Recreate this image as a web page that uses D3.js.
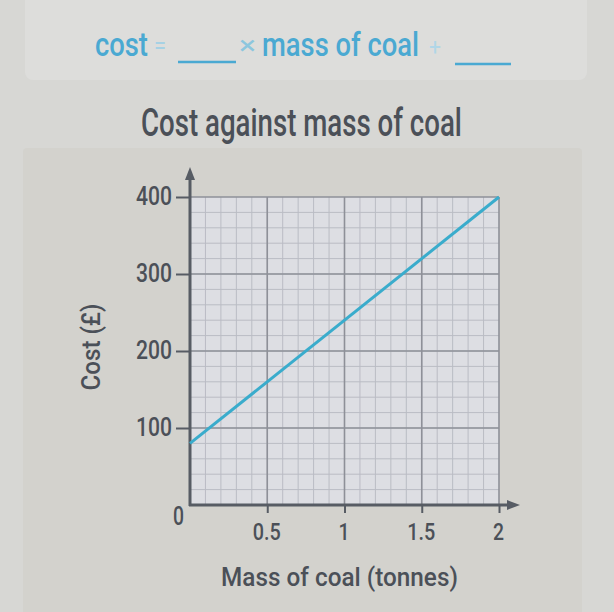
<!DOCTYPE html>
<html><head><meta charset="utf-8">
<script src="https://cdn.jsdelivr.net/npm/d3@7"></script>
<style>
html,body{margin:0;padding:0;background:#d6d6d3;}
svg{display:block;}
</style></head>
<body>
<svg id="chart" width="614" height="612"></svg>
<script>
// ---- data ----
const massValues = [0, 2];          // tonnes
const costValues = [80, 400];       // £
const xTickValues = [0.5, 1, 1.5, 2];
const xTickLabels = ["0.5", "1", "1.5", "2"];
const yTickValues = [100, 200, 300, 400];
const yTickLabels = ["100", "200", "300", "400"];
const titleText = "Cost against mass of coal";
const xLabelText = "Mass of coal (tonnes)";
const yLabelText = "Cost (£)";

const FONT = "Roboto,'Open Sans',sans-serif";
const TXT = "#4b5058";
const svg = d3.select("#chart");

// text condensed to a given width by a horizontal scale transform
function txt(parent, str, x, y, size, width, opts = {}) {
  const t = parent.append("text").attr("x", 0).attr("y", 0)
    .attr("font-family", FONT).attr("font-size", size)
    .attr("font-weight", opts.weight || 500)
    .attr("fill", opts.fill || TXT)
    .attr("text-anchor", opts.anchor || "start")
    .text(str);
  const w = t.node().getComputedTextLength();
  const sx = width && w ? width / w : 1;
  const rot = opts.rotate ? ` rotate(${opts.rotate})` : "";
  t.attr("transform", `translate(${x},${y})${rot} scale(${sx},1)`);
  return t;
}

// background panels
svg.append("rect").attr("x",0).attr("y",0).attr("width",614).attr("height",612).attr("fill","#d7d7d4");
svg.append("rect").attr("x",25).attr("y",-10).attr("width",562).attr("height",90).attr("rx",8).attr("fill","#dddddb");
svg.append("rect").attr("x",23).attr("y",148).attr("width",559).attr("height",475).attr("rx",4).attr("fill","#d3d2cd");

// header equation
const BLUE = "#4aa9d2";
txt(svg, "cost", 95, 56, 33, 53, {fill: BLUE});
txt(svg, "=", 154, 54, 24, 12, {fill: "#a6d1e4", weight: 400});
svg.append("line").attr("x1",178).attr("x2",236).attr("y1",62).attr("y2",62).attr("stroke",BLUE).attr("stroke-width",2.5);
txt(svg, "×", 239, 54, 26, 17, {fill: "#8cc6de", weight: 400});
txt(svg, "mass of coal", 262, 56, 33, 157, {fill: BLUE});
txt(svg, "+", 429, 55, 24, 12, {fill: "#b0d6e7", weight: 400});
svg.append("line").attr("x1",455).attr("x2",511).attr("y1",64).attr("y2",64).attr("stroke",BLUE).attr("stroke-width",2.5);

// title
txt(svg, titleText, 141, 136, 38, 321);

// scales
const x = d3.scaleLinear().domain([0,2]).range([190,499]);
const y = d3.scaleLinear().domain([0,400]).range([505,197]);

// plot background
svg.append("rect").attr("x",x(0)).attr("y",y(400)).attr("width",x(2)-x(0)).attr("height",y(0)-y(400)).attr("fill","#dddee3");

// minor grid
const minorX = d3.range(1,20).map(i=>i*0.1);
const minorY = d3.range(1,20).map(i=>i*20);
const g = svg.append("g");
g.selectAll(".mx").data(minorX).join("line")
  .attr("x1",d=>x(d)).attr("x2",d=>x(d)).attr("y1",y(0)).attr("y2",y(400))
  .attr("stroke","#babcc4").attr("stroke-width",1);
g.selectAll(".my").data(minorY).join("line")
  .attr("x1",x(0)).attr("x2",x(2)).attr("y1",d=>y(d)).attr("y2",d=>y(d))
  .attr("stroke","#babcc4").attr("stroke-width",1);
// major grid
g.selectAll(".Mx").data(xTickValues).join("line")
  .attr("x1",d=>x(d)).attr("x2",d=>x(d)).attr("y1",y(0)).attr("y2",y(400))
  .attr("stroke","#8e9098").attr("stroke-width",1.6);
g.selectAll(".My").data(yTickValues).join("line")
  .attr("x1",x(0)).attr("x2",x(2)).attr("y1",d=>y(d)).attr("y2",d=>y(d))
  .attr("stroke","#8e9098").attr("stroke-width",1.6);

// axes
const axColor = "#575c64";
const xAxis = d3.axisBottom(x).tickValues(xTickValues).tickFormat((d,i)=>xTickLabels[i]).tickSize(8).tickPadding(11);
const yAxis = d3.axisLeft(y).tickValues(yTickValues).tickFormat((d,i)=>yTickLabels[i]).tickSize(14).tickPadding(4);
const gx = svg.append("g").attr("transform",`translate(0,${y(0)})`).call(xAxis);
const gy = svg.append("g").attr("transform",`translate(${x(0)},0)`).call(yAxis);
[gx,gy].forEach(a=>{
  a.select(".domain").remove();
  a.selectAll(".tick line").attr("stroke",axColor).attr("stroke-width",2);
  a.selectAll(".tick text").attr("font-family",FONT).attr("font-size",25).attr("font-weight",500)
    .attr("fill",TXT).attr("lengthAdjust","spacingAndGlyphs");
});
gy.selectAll(".tick text").attr("textLength",36).attr("dy","0.3em");
gx.selectAll(".tick text").attr("font-size",23).attr("dx",-1)
  .attr("textLength",(d,i)=>xTickLabels[i].length===1?11:28);
// axis lines with arrows
svg.append("line").attr("x1",x(0)).attr("x2",x(0)).attr("y1",y(0)+1).attr("y2",176).attr("stroke",axColor).attr("stroke-width",3);
svg.append("path").attr("d",`M${x(0)-5},${180} L${x(0)},${167} L${x(0)+5},${180} Z`).attr("fill",axColor);
svg.append("line").attr("x1",x(0)-1).attr("x2",510).attr("y1",y(0)).attr("y2",y(0)).attr("stroke",axColor).attr("stroke-width",3);
svg.append("path").attr("d",`M${507},${y(0)-5} L${520},${y(0)} L${507},${y(0)+5} Z`).attr("fill",axColor);
// origin label
txt(svg, "0", 178.5, 525, 25, 11, {anchor: "middle"});

// data line
const line = d3.line().x((d,i)=>x(massValues[i])).y((d,i)=>y(costValues[i]));
svg.append("path").datum(massValues).attr("d",line).attr("fill","none")
  .attr("stroke","#3aaccc").attr("stroke-width",3);

// axis labels
txt(svg, xLabelText, 339.5, 586, 26, 237, {anchor: "middle"});
txt(svg, yLabelText, 100, 347, 26, 87, {anchor: "middle", rotate: -90});
</script>
</body></html>
